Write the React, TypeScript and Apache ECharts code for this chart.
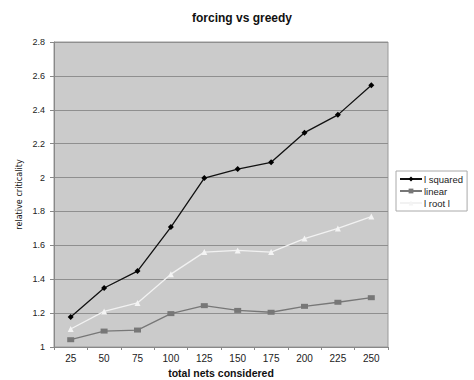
import React, { useEffect, useRef } from "react";
import * as echarts from "echarts";

const categories = ["25", "50", "75", "100", "125", "150", "175", "200", "225", "250"];
const lSquared = [1.177, 1.348, 1.448, 1.708, 1.997, 2.05, 2.09, 2.265, 2.37, 2.545];
const linear = [1.043, 1.094, 1.1, 1.197, 1.244, 1.216, 1.205, 1.24, 1.264, 1.291];
const lRootL = [1.106, 1.21, 1.26, 1.43, 1.56, 1.57, 1.56, 1.64, 1.70, 1.77];
const seriesNames = ["l squared", "linear", "l root l"];

export default function App() {
  const ref = useRef<HTMLDivElement>(null);
  useEffect(() => {
    document.body.style.margin = "0";
    const chart = echarts.init(ref.current!, null, { renderer: "svg" });
    const font = "Liberation Sans, Arial, sans-serif";
    chart.setOption({
      animation: false,
      backgroundColor: "#ffffff",
      textStyle: { fontFamily: font },
      title: {
        text: "forcing vs greedy",
        left: 237,
        textAlign: "center",
        top: 7,
        textStyle: { fontSize: 12, fontWeight: "bold", color: "#111", fontFamily: font },
      },
      grid: {
        left: 54,
        right: 86,
        top: 42,
        bottom: 33,
        outerBoundsMode: "none",
        containLabel: false,
        show: true,
        backgroundColor: "#cbcbcb",
        borderColor: "#999",
        borderWidth: 1,
      },
      legend: {
        orient: "vertical",
        left: 396,
        top: 171,
        backgroundColor: "#ffffff",
        borderColor: "#aaa",
        borderWidth: 1,
        padding: [3, 4, 3, 3],
        itemGap: 2,
        itemWidth: 22,
        itemHeight: 6,
        textStyle: { fontSize: 9.5, color: "#222", fontFamily: font, padding: [0, 0, 0, -3] },
        data: seriesNames,
      },
      xAxis: {
        type: "category",
        data: categories,
        boundaryGap: true,
        name: "total nets considered",
        nameLocation: "middle",
        nameGap: 20,
        nameMoveOverlap: false,
        nameTextStyle: { fontSize: 10.5, fontWeight: "bold", color: "#111" },
        axisLine: { lineStyle: { color: "#888" } },
        axisTick: { show: true, alignWithLabel: false, length: 3, lineStyle: { color: "#888" } },
        axisLabel: { fontSize: 10, color: "#222", margin: 6 },
      },
      yAxis: {
        type: "value",
        min: 1,
        max: 2.8,
        interval: 0.2,
        name: "relative criticality",
        nameLocation: "middle",
        nameGap: 31,
        nameMoveOverlap: false,
        nameTextStyle: { fontSize: 9, color: "#111", fontFamily: "DejaVu Sans Condensed, Liberation Sans Narrow, sans-serif" },
        axisLine: { show: true, lineStyle: { color: "#888" } },
        axisTick: { show: true, length: 4, lineStyle: { color: "#888" } },
        axisLabel: {
          fontSize: 9,
          color: "#222",
          margin: 9,
          formatter: (v: number) => String(Math.round(v * 10) / 10),
        },
        splitLine: { lineStyle: { color: "#8f8f8f", width: 1 } },
      },
      series: [
        {
          name: seriesNames[0],
          type: "line",
          data: lSquared,
          color: "#000000",
          symbol: "diamond",
          symbolSize: 6,
          lineStyle: { color: "#111", width: 1.3 },
          itemStyle: { color: "#000" },
        },
        {
          name: seriesNames[1],
          type: "line",
          data: linear,
          color: "#777777",
          symbol: "rect",
          symbolSize: [7, 5],
          lineStyle: { color: "#777", width: 1.3 },
          itemStyle: { color: "#777" },
        },
        {
          name: seriesNames[2],
          type: "line",
          data: lRootL,
          color: "#f2f2f2",
          symbol: "triangle",
          symbolSize: 6,
          lineStyle: { color: "#f2f2f2", width: 1.3 },
          itemStyle: { color: "#f4f4f4" },
        },
      ],
    });
    return () => chart.dispose();
  }, []);
  return <div ref={ref} style={{ width: 474, height: 380 }} />;
}
